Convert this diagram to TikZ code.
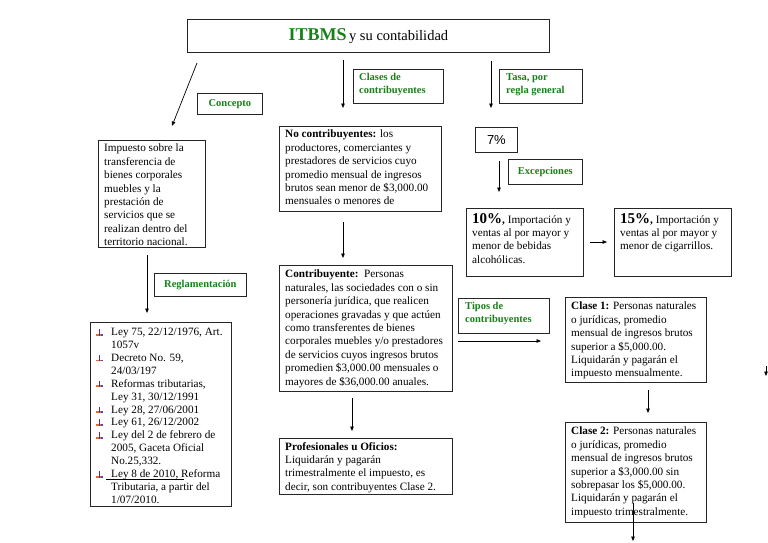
\documentclass[tikz,border=0pt]{standalone}
\usepackage{fontspec}
\setmainfont{Liberation Serif}
\newfontfamily\arialf{Liberation Sans}
\usetikzlibrary{arrows.meta}
\definecolor{lblgreen}{RGB}{24,128,24}
\definecolor{bulvi}{RGB}{110,40,130}
\definecolor{bulor}{RGB}{230,110,30}
\definecolor{bulbl}{RGB}{60,80,200}
\newcommand{\bulmark}{\rlap{\textcolor{bulor}{\rule{6.5pt}{1.8pt}}}\rlap{\hspace{4.4pt}\textcolor{bulbl}{\rule{2.1pt}{1.8pt}}}\hspace{2.3pt}\textcolor{bulvi}{\rule{1.9pt}{6.5pt}}}
\newcommand{\bul}{\makebox[15pt][l]{\bulmark}}
\newcommand{\ind}{\hspace*{15pt}}
\begin{document}
\begin{tikzpicture}[x=1pt,y=-1pt,
  box/.style={draw=black!85, line width=0.8pt, inner sep=0pt, anchor=north west},
  txt/.style={inner sep=0pt, anchor=north west, align=left, font=\fontsize{11.2}{13.4}\selectfont},
  lbl/.style={inner sep=0pt, align=left, text=lblgreen, font=\fontsize{10.5}{13}\selectfont\bfseries},
  arr/.style={-{Triangle[length=4.5pt,width=3.6pt]}, line width=0.7pt}]
\useasboundingbox (0,0) rectangle (768,543);
% boxes
\node[box, minimum width=362pt, minimum height=33pt] (title) at (187,19) {};
\node[box, minimum width=65pt, minimum height=21pt] (conc) at (197,93) {};
\node[box, minimum width=107pt, minimum height=107pt] (imp) at (98,140) {};
\node[box, minimum width=92pt, minimum height=23pt] (regl) at (154,273) {};
\node[box, minimum width=141pt, minimum height=184pt] (ley) at (90,322) {};
\node[box, minimum width=90pt, minimum height=34pt] (clases) at (353,69) {};
\node[box, minimum width=162pt, minimum height=85pt] (noc) at (279,126) {};
\node[box, minimum width=173pt, minimum height=126pt] (contr) at (279,265) {};
\node[box, minimum width=173pt, minimum height=56pt] (prof) at (279,438) {};
\node[box, minimum width=83pt, minimum height=34pt] (tasa) at (499,69) {};
\node[box, minimum width=42pt, minimum height=25pt] (siete) at (475,127) {};
\node[box, minimum width=74pt, minimum height=25pt] (exc) at (508,159) {};
\node[box, minimum width=117pt, minimum height=68pt] (diez) at (466,208) {};
\node[box, minimum width=117pt, minimum height=68pt] (quince) at (614,208) {};
\node[box, minimum width=91pt, minimum height=35pt] (tipos) at (458,298) {};
\node[box, minimum width=141pt, minimum height=85pt] (c1) at (565,297) {};
\node[box, minimum width=141pt, minimum height=100pt] (c2) at (565,422) {};
% title
\node[inner sep=0pt] (titletxt) at (title.center) {\textcolor{lblgreen}{\fontsize{18}{20}\selectfont\bfseries ITBMS} {\fontsize{14.5}{16}\selectfont y su contabilidad}};
% green labels
\node[lbl] (conctxt) at (conc.center) {Concepto};
\node[lbl] (regltxt) at (regl.center) {Reglamentación};
\node[lbl] (exctxt) at (exc.center) {Excepciones};
\node[lbl, anchor=north west] (clasestxt) at ([shift={(6pt,-4pt)}]clases.north west) {Clases de\\contribuyentes};
\node[lbl, anchor=north west] (tasatxt) at ([shift={(7pt,-4pt)}]tasa.north west) {Tasa, por\\regla general};
\node[lbl, anchor=north west] (tipostxt) at ([shift={(7pt,-4pt)}]tipos.north west) {Tipos de\\contribuyentes};
% 7%
\node[inner sep=0pt, font=\arialf\fontsize{13}{15}\selectfont] (sietetxt) at (siete.center) {7\%};
% body texts
\node[txt] (imptxt) at ([shift={(6pt,-4pt)}]imp.north west) {Impuesto sobre la\\transferencia de\\bienes corporales\\muebles y la\\prestación de\\servicios que se\\realizan dentro del\\territorio nacional.};
\node[txt, font=\fontsize{11.2}{12.9}\selectfont] (leytxt) at ([shift={(6pt,-6pt)}]ley.north west) {\bul Ley 75, 22/12/1976, Art.\\\ind 1057v\\\bul Decreto No. 59,\\\ind 24/03/197\\\bul Reformas tributarias,\\\ind Ley 31, 30/12/1991\\\bul Ley 28, 27/06/2001\\\bul Ley 61, 26/12/2002\\\bul Ley del 2 de febrero de\\\ind 2005, Gaceta Oficial\\\ind No.25,332.\\\makebox[10pt][l]{\bulmark}\rlap{\rule[-2.3pt]{78pt}{0.6pt}}\hspace{5pt}Ley 8 de 2010, Reforma\\\ind Tributaria, a partir del\\\ind 1/07/2010.};
\node[txt] (noctxt) at ([shift={(6pt,-4pt)}]noc.north west) {\textbf{No contribuyentes:} los\\productores, comerciantes y\\prestadores de servicios cuyo\\promedio mensual de ingresos\\brutos sean menor de \$3,000.00\\mensuales o menores de};
\node[txt] (contrtxt) at ([shift={(6pt,-5pt)}]contr.north west) {\textbf{Contribuyente:}\ \ Personas\\naturales, las sociedades con o sin\\personería jurídica, que realicen\\operaciones gravadas y que actúen\\como transferentes de bienes\\corporales muebles y/o prestadores\\de servicios cuyos ingresos brutos\\promedien \$3,000.00 mensuales o\\mayores de \$36,000.00 anuales.};
\node[txt] (proftxt) at ([shift={(6pt,-4pt)}]prof.north west) {\textbf{Profesionales u Oficios:}\\Liquidarán y pagarán\\trimestralmente el impuesto, es\\decir, son contribuyentes Clase 2.};
\node[txt] (dieztxt) at ([shift={(6pt,-5pt)}]diez.north west) {{\fontsize{15}{15}\selectfont\bfseries 10\%}\textbf{,} Importación y\\ventas al por mayor y\\menor de bebidas\\alcohólicas.};
\node[txt] (quincetxt) at ([shift={(6pt,-5pt)}]quince.north west) {{\fontsize{15}{15}\selectfont\bfseries 15\%}\textbf{,} Importación y\\ventas al por mayor y\\menor de cigarrillos.};
\node[txt] (c1txt) at ([shift={(6pt,-5pt)}]c1.north west) {\textbf{Clase 1:} Personas naturales\\o jurídicas, promedio\\mensual de ingresos brutos\\superior a \$5,000.00.\\Liquidarán y pagarán el\\impuesto mensualmente.};
\node[txt] (c2txt) at ([shift={(6pt,-5pt)}]c2.north west) {\textbf{Clase 2:} Personas naturales\\o jurídicas, promedio\\mensual de ingresos brutos\\superior a \$3,000.00 sin\\sobrepasar los \$5,000.00.\\Liquidarán y pagarán el\\impuesto trimestralmente.};
% arrow coordinates
\coordinate (a1s) at (197,63); \coordinate (a1e) at (172,126);
\coordinate (a2s) at (147,255); \coordinate (a2e) at (147,313);
\coordinate (a3s) at (343,60); \coordinate (a3e) at (343,108);
\coordinate (a4s) at (343,222); \coordinate (a4e) at (343,258);
\coordinate (a5s) at (352,398); \coordinate (a5e) at (352,431);
\coordinate (a6s) at (491,61); \coordinate (a6e) at (491,108);
\coordinate (a7s) at (499,161); \coordinate (a7e) at (499,192);
\coordinate (a8s) at (590,242); \coordinate (a8e) at (607,242);
\coordinate (a9s) at (458,341); \coordinate (a9e) at (541,341);
\coordinate (a10s) at (648,390); \coordinate (a10e) at (648,413);
\coordinate (a11s) at (633,503); \coordinate (a11e) at (633,541);
\coordinate (a12s) at (766,366); \coordinate (a12e) at (766,376);
\foreach \i in {1,...,12} {\draw[arr] (a\i s) -- (a\i e);}
\end{tikzpicture}
\end{document}
